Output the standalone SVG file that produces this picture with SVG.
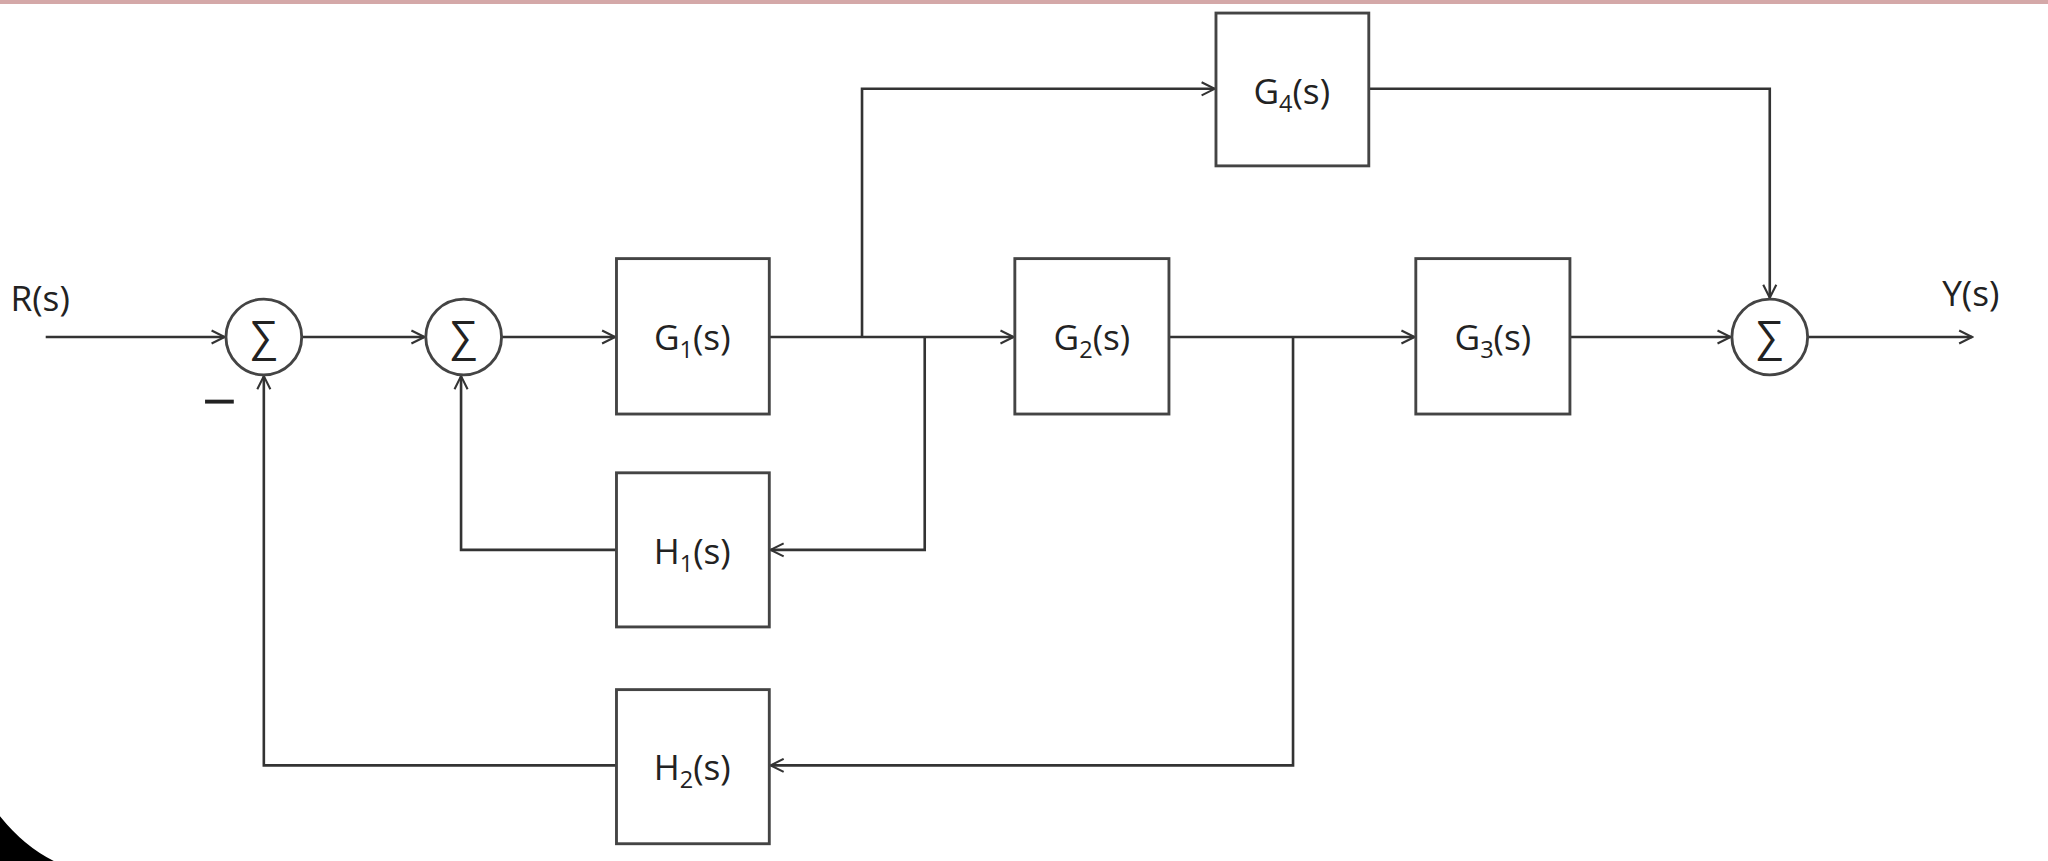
<svg xmlns="http://www.w3.org/2000/svg" width="2048" height="861" viewBox="0 0 2048 861">
<defs>
<marker id="a" viewBox="0 0 12 12" refX="11" refY="6" markerWidth="12" markerHeight="12" markerUnits="userSpaceOnUse" orient="auto"><path d="M1,1 L11,6 L1,11" fill="none" stroke="#333" stroke-width="1.6"/></marker>
</defs>
<style>
.b{fill:#fff;stroke:#444;stroke-width:2.2}
.c{fill:none;stroke:#333;stroke-width:2}
text{font-family:"Open Sans","Liberation Sans",sans-serif;font-size:27px;fill:#222}
.t{text-anchor:middle}
.s{font-size:32px}
</style>
<rect width="2048" height="861" fill="#fff"/>
<rect x="0" y="0" width="2048" height="4" fill="#d4a8a8"/>
<g transform="scale(1.3061)">
<path d="M0,825 Q20,850 45,861 L0,861 Z" fill="#000" transform="translate(0,-200) scale(1)"/>
<g id="connectors" class="c">
<path d="M35,258 H172" marker-end="url(#a)"/>
<path d="M231,258 H325" marker-end="url(#a)"/>
<path d="M384,258 H471" marker-end="url(#a)"/>
<path d="M589,258 H776" marker-end="url(#a)"/>
<path d="M660,258 V68 H930" marker-end="url(#a)"/>
<path d="M708,258 V421 H590" marker-end="url(#a)"/>
<path d="M472,421 H353 V288" marker-end="url(#a)"/>
<path d="M895,258 H1083" marker-end="url(#a)"/>
<path d="M990,258 V586 H590" marker-end="url(#a)"/>
<path d="M472,586 H202 V288" marker-end="url(#a)"/>
<path d="M1048,68 H1355 V228" marker-end="url(#a)"/>
<path d="M1202,258 H1325" marker-end="url(#a)"/>
<path d="M1384,258 H1510" marker-end="url(#a)"/>
</g>
<g id="labels">
<text x="8" y="238">R(s)</text>
<text x="1487" y="234">Y(s)</text>
<rect x="157" y="306" width="22" height="3" fill="#222"/>
</g>
<g id="sum1"><circle class="b" cx="202" cy="258" r="29"/><text class="t s" x="202" y="269">∑</text></g>
<g id="sum2"><circle class="b" cx="355" cy="258" r="29"/><text class="t s" x="355" y="269">∑</text></g>
<g id="sum3"><circle class="b" cx="1355" cy="258" r="29"/><text class="t s" x="1355" y="269">∑</text></g>
<g id="G1"><rect class="b" x="472" y="198" width="117" height="119"/><text class="t" x="530" y="268">G<tspan font-size="18" dy="6">1</tspan><tspan dy="-6">(s)</tspan></text></g>
<g id="G2"><rect class="b" x="777" y="198" width="118" height="119"/><text class="t" x="836" y="268">G<tspan font-size="18" dy="6">2</tspan><tspan dy="-6">(s)</tspan></text></g>
<g id="G3"><rect class="b" x="1084" y="198" width="118" height="119"/><text class="t" x="1143" y="268">G<tspan font-size="18" dy="6">3</tspan><tspan dy="-6">(s)</tspan></text></g>
<g id="G4"><rect class="b" x="931" y="10" width="117" height="117"/><text class="t" x="989" y="80">G<tspan font-size="18" dy="6">4</tspan><tspan dy="-6">(s)</tspan></text></g>
<g id="H1"><rect class="b" x="472" y="362" width="117" height="118"/><text class="t" x="530" y="432">H<tspan font-size="18" dy="6">1</tspan><tspan dy="-6">(s)</tspan></text></g>
<g id="H2"><rect class="b" x="472" y="528" width="117" height="118"/><text class="t" x="530" y="597">H<tspan font-size="18" dy="6">2</tspan><tspan dy="-6">(s)</tspan></text></g>
</g>
</svg>
